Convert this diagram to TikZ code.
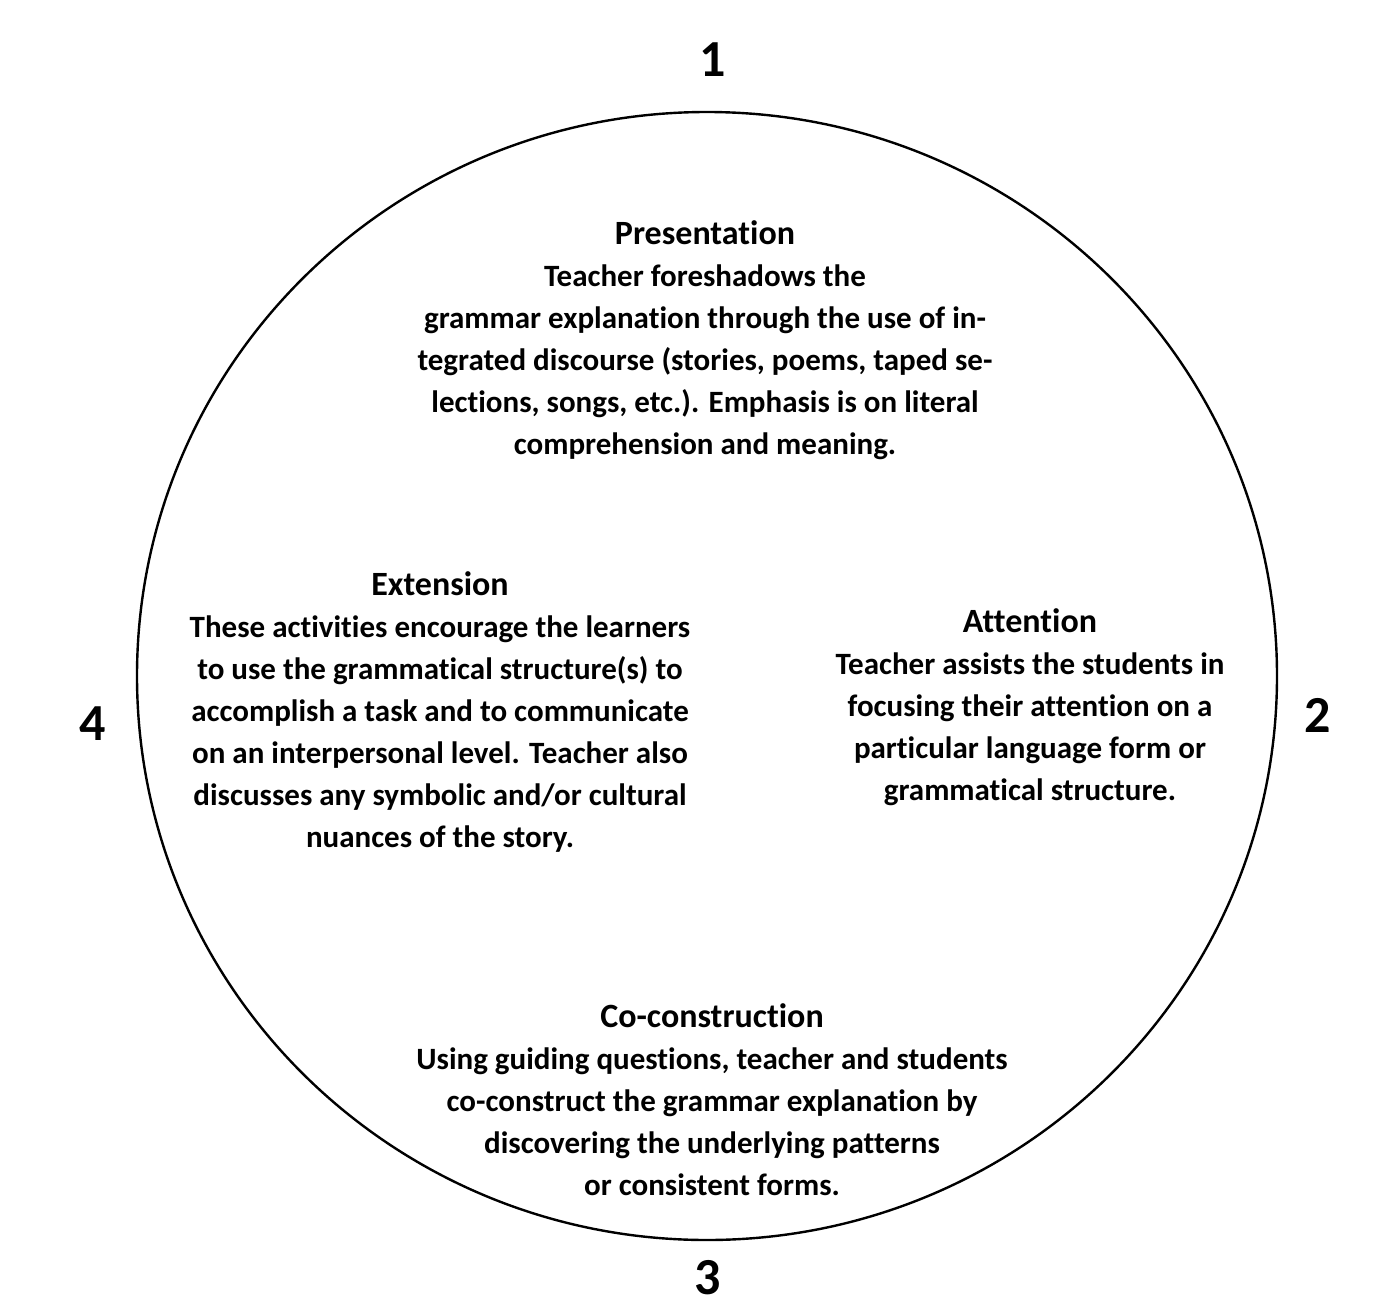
\documentclass[tikz,border=0pt]{standalone}
\usepackage{fontspec}
\usetikzlibrary{shapes.geometric}
\setmainfont[Ligatures=NoCommon]{Carlito}
\begin{document}
\begin{tikzpicture}[x=0.5pt,y=-0.5pt,
  txt/.style={align=center,inner sep=0pt,font=\fontsize{15.5}{21}\selectfont\bfseries},
  num/.style={inner sep=0pt,font=\fontsize{26}{28}\selectfont\bfseries}]
\useasboundingbox (0,0) rectangle (1376,1306);
\node[draw,ellipse,minimum width=570pt,minimum height=564pt,inner sep=0pt,line width=1.2pt] (c) at (707,676) {};
\node[txt] (p) at (705,340) {{\fontsize{17}{21}\selectfont Presentation}\\Teacher foreshadows the\\grammar explanation through the use of in-\\tegrated discourse (stories, poems, taped se-\\lections, songs, etc.). Emphasis is on literal\\comprehension and meaning.};
\node[txt] (e) at (440,712) {{\fontsize{17}{21}\selectfont Extension}\\These activities encourage the learners\\to use the grammatical structure(s) to\\accomplish a task and to communicate\\on an interpersonal level. Teacher also\\discusses any symbolic and/or cultural\\nuances of the story.};
\node[txt] (a) at (1030,707) {{\fontsize{17}{21}\selectfont Attention}\\Teacher assists the students in\\focusing their attention on a\\particular language form or\\grammatical structure.};
\node[txt] (k) at (712,1100) {{\fontsize{17}{21}\selectfont Co-construction}\\Using guiding questions, teacher and students\\co-construct the grammar explanation by\\discovering the underlying patterns\\or consistent forms.};
\node[num] (n1) at (713,60) {1};
\node[num] (n2) at (1318,715) {2};
\node[num] (n3) at (708,1278) {3};
\node[num] (n4) at (93,724) {4};
\end{tikzpicture}
\end{document}
